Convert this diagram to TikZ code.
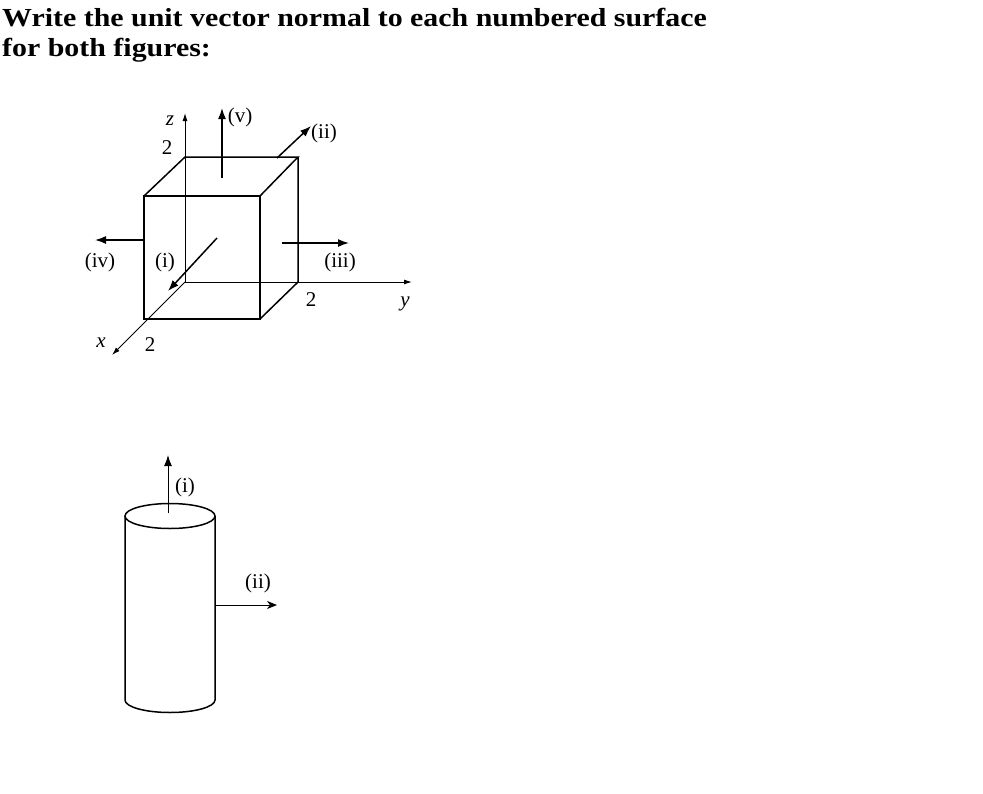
\documentclass[tikz,border=0pt]{standalone}
\usepackage{fontspec}
\setmainfont{Liberation Serif}
\usetikzlibrary{arrows.meta}
\begin{document}
\begin{tikzpicture}[x=1pt,y=-1pt,
  ln/.style={line width=1.5pt},
  ar/.style={line width=1.5pt,-{Latex[length=11pt,width=8pt]}},
  lb/.style={font=\fontsize{21}{21}\selectfont,inner sep=0pt},
  ttl/.style={font=\fontsize{26}{26}\selectfont\bfseries,anchor=west,inner sep=0pt}]
\useasboundingbox (0,0) rectangle (983,793);
\node[ttl] (t1) at (2,18) {\scalebox{1.15}[1]{Write the unit vector normal to each numbered surface}};
\node[ttl] (t2) at (2,50) {\scalebox{1.15}[1]{for both figures:}};
% cube
\coordinate (A) at (144,196); \coordinate (B) at (260,196);
\coordinate (C) at (260,319); \coordinate (D) at (144,319);
\coordinate (E) at (185,157); \coordinate (F) at (298,157);
\coordinate (G) at (298,282); \coordinate (O) at (185,282);
\draw[ln] (A)--(B)--(C)--(D)--cycle;
\draw[ln] (A)--(E)--(F)--(B) (F)--(G)--(C);
\coordinate (zt) at (185,113); \coordinate (yt) at (412,282); \coordinate (xt) at (112,355);
\draw[ar,line width=1pt,-{Latex[length=8pt,width=5pt]}] (O)--(zt);
\draw[ar,line width=1pt,-{Latex[length=8pt,width=5pt]}] (O)--(yt);
\draw[ar,line width=1pt,-{Latex[length=8pt,width=5pt]}] (O)--(xt);
\coordinate (v0) at (222,178); \coordinate (v1) at (222,108);
\draw[ar] (v0)--(v1);
\coordinate (ii0) at (277,158); \coordinate (ii1) at (311,126);
\draw[ar] (ii0)--(ii1);
\coordinate (iv0) at (144,240); \coordinate (iv1) at (95,240);
\draw[ar] (iv0)--(iv1);
\coordinate (iii0) at (282,243); \coordinate (iii1) at (349,243);
\draw[ar] (iii0)--(iii1);
\coordinate (i0) at (217,238); \coordinate (i1) at (168,291);
\draw[ar] (i0)--(i1);
\node[lb] (lv) at (240,117) {(v)};
\node[lb] (lii) at (324,133) {(ii)};
\node[lb] (liv) at (100,262) {(iv)};
\node[lb] (liii) at (340,262) {(iii)};
\node[lb] (li) at (165,262) {(i)};
\node[lb] (z2) at (167,148) {2};
\node[lb] (y2) at (311,300) {2};
\node[lb] (x2) at (150,345) {2};
\node[lb,font=\fontsize{21}{21}\selectfont\itshape] (lz) at (170,121) {z};
\node[lb,font=\fontsize{21}{21}\selectfont\itshape] (ly) at (405,304) {y};
\node[lb,font=\fontsize{21}{21}\selectfont\itshape] (lx) at (101,343) {x};
% cylinder
\draw[ln] (170,516) ellipse [x radius=45,y radius=12.5];
\draw[ln] (125,516)--(125,700) arc[start angle=180,end angle=0,x radius=45,y radius=12.5]--(215,516);
\coordinate (ci0) at (168,513); \coordinate (ci1) at (168,455);
\draw[ar,line width=1pt] (ci0)--(ci1);
\coordinate (cii0) at (215,605); \coordinate (cii1) at (277,605);
\draw[ar,line width=1pt,-{Stealth[length=10pt,width=8pt,inset=3pt]}] (cii0)--(cii1);
\node[lb] (cli) at (185,487) {(i)};
\node[lb] (clii) at (258,583) {(ii)};
\end{tikzpicture}
\end{document}
